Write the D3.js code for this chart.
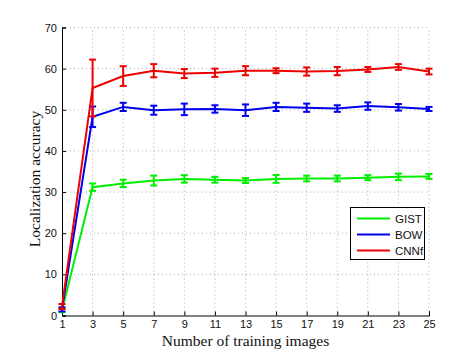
<!DOCTYPE html>
<html><head><meta charset="utf-8">
<script src="https://cdn.jsdelivr.net/npm/d3@7"></script>
<style>body{margin:0;background:#fff}svg{display:block}</style>
</head><body>
<script>
const xs = [1,3,5,7,9,11,13,15,17,19,21,23,25];
const gist = [1.2,31.2,32.1,32.8,33.2,33.0,32.8,33.2,33.3,33.3,33.5,33.7,33.8];
const gistErr = [0.4,0.9,0.9,1.2,0.9,0.7,0.6,0.95,0.7,0.7,0.6,0.8,0.6];
const bow = [1.5,48.3,50.7,49.9,50.1,50.2,49.9,50.7,50.5,50.3,50.9,50.6,50.2];
const bowErr = [0.5,2.5,1.0,1.1,1.4,0.9,1.4,1.0,1.0,0.8,0.9,0.8,0.5];
const cnn = [2.2,55.3,58.2,59.5,58.8,59.0,59.5,59.5,59.3,59.4,59.8,60.4,59.3];
const cnnErr = [0.6,6.9,2.4,1.6,1.1,1.0,1.1,0.6,1.0,1.0,0.6,0.7,0.7];
const yTicks = [0,10,20,30,40,50,60,70];
const seriesNames = ["GIST","BOW","CNNf"];
const seriesColors = ["#00ee00","#0000ee","#ee0000"];

const W=474,H=355;
const m={l:62,r:45,t:27.5,b:39.5};
const svg=d3.select("body").append("svg").attr("width",W).attr("height",H);
const x=d3.scaleLinear().domain([1,25]).range([m.l,W-m.r]);
const y=d3.scaleLinear().domain([0,70]).range([H-m.b,m.t]);

// grid
const g=svg.append("g");
g.selectAll(".gx").data(xs.slice(1)).enter().append("line")
 .attr("x1",d=>x(d)).attr("x2",d=>x(d)).attr("y1",y(0)).attr("y2",y(70))
 .attr("stroke","#999").attr("stroke-width",0.8).attr("stroke-dasharray","1,3");
g.selectAll(".gy").data(yTicks.slice(1)).enter().append("line")
 .attr("x1",x(1)).attr("x2",x(25)).attr("y1",d=>y(d)).attr("y2",d=>y(d))
 .attr("stroke","#999").attr("stroke-width",0.8).attr("stroke-dasharray","1,3");

// axes
const xa=svg.append("g").attr("transform",`translate(0,${y(0)})`)
 .call(d3.axisBottom(x).tickValues(xs).tickSize(-4).tickPadding(5).tickFormat(d3.format("d")));
const ya=svg.append("g").attr("transform",`translate(${x(1)},0)`)
 .call(d3.axisLeft(y).tickValues(yTicks).tickSize(-4).tickPadding(5).tickFormat(d3.format("d")));
[xa,ya].forEach(a=>{
  a.select(".domain").attr("stroke","#000").attr("stroke-width",1);
  a.selectAll(".tick line").attr("stroke","#000");
  a.selectAll("text").attr("font-family","Liberation Sans, Arial, sans-serif").attr("font-size",11).attr("fill","#111");
});

const series=[[gist,gistErr],[bow,bowErr],[cnn,cnnErr]];
const line=d3.line().x(d=>x(d[0])).y(d=>y(d[1]));
series.forEach(([vals,errs],i)=>{
  const c=seriesColors[i];
  const pts=xs.map((xv,j)=>[xv,vals[j],errs[j]]);
  const sg=svg.append("g");
  sg.append("path").attr("d",line(pts)).attr("fill","none").attr("stroke",c).attr("stroke-width",2);
  const eb=sg.selectAll(".eb").data(pts).enter().append("g");
  eb.append("line").attr("x1",d=>x(d[0])).attr("x2",d=>x(d[0]))
    .attr("y1",d=>y(d[1]-d[2])).attr("y2",d=>y(d[1]+d[2])).attr("stroke",c).attr("stroke-width",2);
  [-1,1].forEach(s=>{
    eb.append("line").attr("x1",d=>x(d[0])-3.5).attr("x2",d=>x(d[0])+3.5)
      .attr("y1",d=>y(d[1]+s*d[2])).attr("y2",d=>y(d[1]+s*d[2])).attr("stroke",c).attr("stroke-width",2);
  });
});

// legend
const lg=svg.append("g");
lg.append("rect").attr("x",350.5).attr("y",207.5).attr("width",74).attr("height",52)
 .attr("fill","#fff").attr("stroke","#000").attr("stroke-width",1);
seriesNames.forEach((n,i)=>{
  const yy=218.5+i*16;
  lg.append("line").attr("x1",357).attr("x2",390).attr("y1",yy).attr("y2",yy).attr("stroke",seriesColors[i]).attr("stroke-width",2);
  lg.append("text").attr("x",395).attr("y",yy+4).text(n)
   .attr("font-family","Liberation Sans, Arial, sans-serif").attr("font-size",11.5).attr("fill","#111");
});

// labels
svg.append("text").attr("x",(x(1)+x(25))/2).attr("y",346).attr("text-anchor","middle")
 .attr("font-family","Liberation Serif, Times New Roman, serif").attr("font-size",15.5).attr("fill","#111")
 .text("Number of training images");
svg.append("text").attr("transform","translate(40,179) rotate(-90)").attr("text-anchor","middle")
 .attr("font-family","Liberation Serif, Times New Roman, serif").attr("font-size",15.5).attr("fill","#111")
 .text("Localization accuracy");
</script>
</body></html>
